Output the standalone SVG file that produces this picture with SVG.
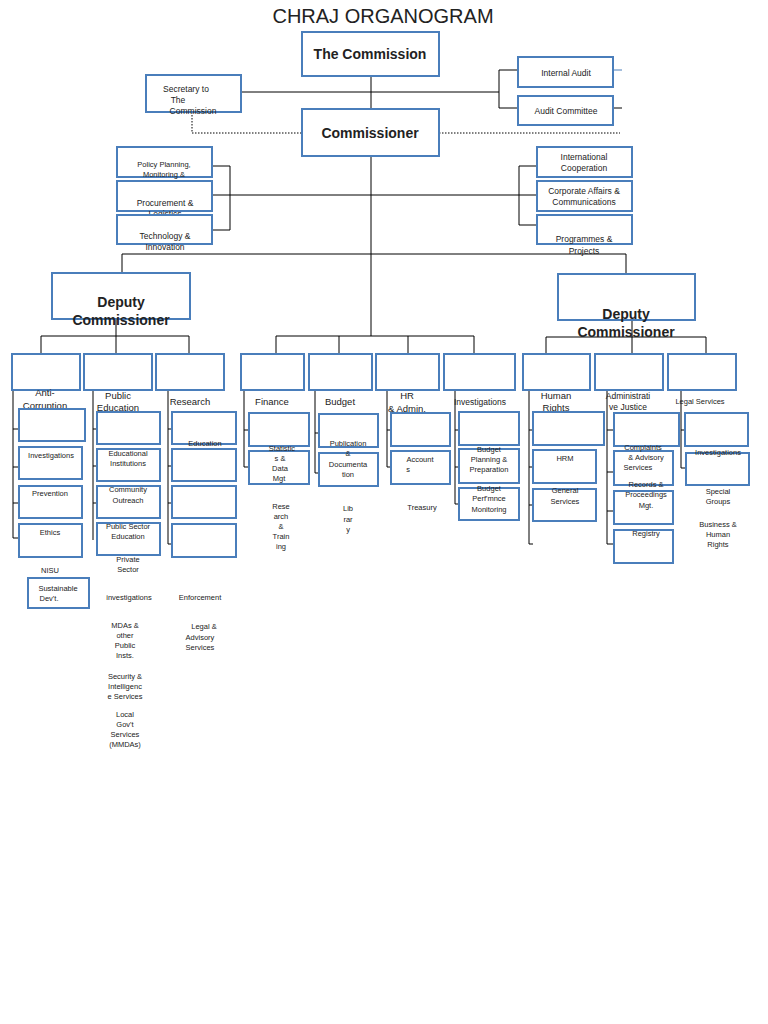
<svg xmlns="http://www.w3.org/2000/svg" width="768" height="1024" viewBox="0 0 768 1024">
<style>
.b{fill:#fff;stroke:#4a7ebb;stroke-width:2}
.l{stroke:#000;stroke-width:1;fill:none}
.d{stroke:#000;stroke-width:1;stroke-dasharray:1.5,1.5;fill:none}
text{font-family:"Liberation Sans",Arial,sans-serif;fill:#222;text-anchor:middle}
.s{font-size:7.5px}
.m{font-size:8.5px}
.t{font-size:9.5px}
.h{font-size:14px;font-weight:bold}
</style>
<rect width="768" height="1024" fill="#fff"/>
<text x="383" y="23" style="font-size:20px">CHRAJ ORGANOGRAM</text>
<g id="connectors">
<path class="l" d="M371 76V109M371 156V336M241 92H499M499 70V108M499 70H518M499 108H518"/>
<path d="M613 70H622" stroke="#4a7ebb"/>
<path class="l" d="M613 108H622"/>
<path class="d" d="M192 112V133H302M439 133H620"/>
<path class="l" d="M212 166H230V230H212M212 195H537M537 166H519V225H537"/>
<path class="l" d="M122 254H626M122 254V273M626 254V274"/>
<path class="l" d="M41 336H189M41 336V354M116 319V354M189 336V354"/>
<path class="l" d="M276 336H474M276 336V354M339 336V354M408 336V354M474 336V354"/>
<path class="l" d="M546 337H706M546 337V354M632 320V354M706 337V354"/>
<path class="l" d="M13 390V538M13 429H19M13 467H19M13 503H19M13 538H19"/>
<path class="l" d="M93 390V540M93 429H97M93 466H97M93 503H97"/>
<path class="l" d="M168 390V544H172M168 429H172M168 466H172M168 503H172"/>
<path class="l" d="M244 390V467H249M244 430H249"/>
<path class="l" d="M315 390V473H319M315 433H319"/>
<path class="l" d="M387 390V467H391M387 430H391"/>
<path class="l" d="M455 390V504H459M455 430H459M455 467H459"/>
<path class="l" d="M529 390V544H533M529 430H533M529 467H533M529 505H533"/>
<path class="l" d="M607 390V544H614M607 430H614M607 472H614M607 511H614"/>
<path class="l" d="M681 390V468H686M681 430H685"/>
</g>
<g id="commission"><rect class="b" x="302" y="32" width="137" height="44"/><text x="370" y="59" class="h">The Commission</text></g>
<g id="commissioner"><rect class="b" x="302" y="109" width="137" height="47"/><text x="370" y="138" class="h">Commissioner</text></g>
<g id="secretary"><rect class="b" x="146" y="75" width="95" height="37"/><text class="m" x="186" y="92">Secretary to</text><text class="m" x="178" y="103">The</text><text class="m" x="193" y="114">Commission</text></g>
<g id="internal-audit"><rect class="b" x="518" y="57" width="95" height="30"/><text class="m" x="566" y="76">Internal Audit</text></g>
<g id="audit-committee"><rect class="b" x="518" y="96" width="95" height="29"/><text class="m" x="566" y="114">Audit Committee</text></g>
<g id="policy"><rect class="b" x="117" y="147" width="95" height="30"/><text class="s" x="164" y="167">Policy Planning,</text><text class="s" x="164" y="177">Monitoring &amp;</text><text class="s" x="164" y="187">Evaluation</text></g>
<g id="procurement"><rect class="b" x="117" y="181" width="95" height="30"/><text class="m" x="165" y="206">Procurement &amp;</text><text class="m" x="165" y="217">Logistics</text></g>
<g id="technology"><rect class="b" x="117" y="215" width="95" height="29"/><text class="m" x="165" y="239">Technology &amp;</text><text class="m" x="165" y="250">Innovation</text></g>
<g id="intl"><rect class="b" x="537" y="147" width="95" height="30"/><text class="m" x="584" y="160">International</text><text class="m" x="584" y="171">Cooperation</text></g>
<g id="corporate"><rect class="b" x="537" y="181" width="95" height="30"/><text class="m" x="584" y="194">Corporate Affairs &amp;</text><text class="m" x="584" y="205">Communications</text></g>
<g id="programmes"><rect class="b" x="537" y="215" width="95" height="29"/><text class="m" x="584" y="242">Programmes &amp;</text><text class="m" x="584" y="254">Projects</text></g>
<g id="deputy-left"><rect class="b" x="52" y="273" width="138" height="46"/><text x="121" y="307" style="font-size:14px;font-weight:bold">Deputy</text><text x="121" y="325" style="font-size:14px;font-weight:bold">Commissioner</text></g>
<g id="deputy-right"><rect class="b" x="558" y="274" width="137" height="46"/><text x="626" y="319" style="font-size:14px;font-weight:bold">Deputy</text><text x="626" y="337" style="font-size:14px;font-weight:bold">Commissioner</text></g>
<g id="anti-corruption"><rect class="b" x="12" y="354" width="68" height="36"/><text class="t" x="45" y="396">Anti-</text><text class="t" x="45" y="409">Corruption</text>
<rect class="b" x="19" y="409" width="66" height="32"/><rect class="b" x="19" y="447" width="63" height="32"/><rect class="b" x="19" y="486" width="63" height="32"/><rect class="b" x="19" y="524" width="63" height="33"/>
<text class="s" x="51" y="458">Investigations</text><text class="s" x="50" y="496">Prevention</text><text class="s" x="50" y="535">Ethics</text><text class="s" x="50" y="573">NISU</text>
<rect class="b" x="28" y="578" width="61" height="30"/><text class="s" x="58" y="591" style="text-anchor:middle">Sustainable</text><text class="s" x="49" y="601">Dev't.</text></g>
<g id="public-education"><rect class="b" x="84" y="354" width="68" height="36"/><text class="t" x="118" y="399">Public</text><text class="t" x="118" y="411">Education</text>
<rect class="b" x="97" y="412" width="63" height="32"/><rect class="b" x="97" y="449" width="63" height="32"/><rect class="b" x="97" y="486" width="63" height="32"/><rect class="b" x="97" y="523" width="63" height="32"/>
<text class="s" x="128" y="456">Educational</text><text class="s" x="128" y="466">Institutions</text><text class="s" x="128" y="492">Community</text><text class="s" x="128" y="503">Outreach</text><text class="s" x="128" y="529">Public Sector</text><text class="s" x="128" y="539">Education</text><text class="s" x="128" y="562">Private</text><text class="s" x="128" y="572">Sector</text><text class="s" x="129" y="600">investigations</text>
<text class="s" x="125" y="628">MDAs &amp;</text><text class="s" x="125" y="638">other</text><text class="s" x="125" y="648">Public</text><text class="s" x="125" y="658">Insts.</text><text class="s" x="125" y="679">Security &amp;</text><text class="s" x="125" y="689">Intelligenc</text><text class="s" x="125" y="699">e  Services</text><text class="s" x="125" y="717">Local</text><text class="s" x="125" y="727">Gov't</text><text class="s" x="125" y="737">Services</text><text class="s" x="125" y="747">(MMDAs)</text></g>
<g id="research"><rect class="b" x="156" y="354" width="68" height="36"/><text class="t" x="190" y="405">Research</text>
<rect class="b" x="172" y="412" width="64" height="32"/><rect class="b" x="172" y="449" width="64" height="32"/><rect class="b" x="172" y="486" width="64" height="32"/><rect class="b" x="172" y="524" width="64" height="33"/>
<text class="s" x="205" y="446">Education</text><text class="s" x="200" y="600">Enforcement</text><text class="s" x="204" y="629">Legal     &amp;</text><text class="s" x="200" y="640">Advisory</text><text class="s" x="200" y="650">Services</text></g>
<g id="finance"><rect class="b" x="241" y="354" width="63" height="36"/><text class="t" x="272" y="405">Finance</text>
<rect class="b" x="249" y="413" width="60" height="33"/><rect class="b" x="249" y="451" width="60" height="33"/>
<text class="s" x="282" y="451">Statistic</text><text class="s" x="280" y="461">s &amp;</text><text class="s" x="280" y="471">Data</text><text class="s" x="279" y="481">Mgt</text>
<text class="s" x="281" y="509">Rese</text><text class="s" x="281" y="519">arch</text><text class="s" x="281" y="529">&amp;</text><text class="s" x="281" y="539">Train</text><text class="s" x="281" y="549">ing</text></g>
<g id="budget"><rect class="b" x="309" y="354" width="63" height="36"/><text class="t" x="340" y="405">Budget</text>
<rect class="b" x="319" y="414" width="59" height="33"/><rect class="b" x="319" y="453" width="59" height="33"/>
<text class="s" x="348" y="446">Publication</text><text class="s" x="348" y="456">&amp;</text><text class="s" x="348" y="467">Documenta</text><text class="s" x="348" y="477">tion</text>
<text class="s" x="348" y="511">Lib</text><text class="s" x="348" y="522">rar</text><text class="s" x="348" y="532">y</text></g>
<g id="hr-admin"><rect class="b" x="376" y="354" width="63" height="36"/><text class="t" x="407" y="399">HR</text><text class="t" x="407" y="412">&amp; Admin.</text>
<rect class="b" x="391" y="413" width="59" height="33"/><rect class="b" x="391" y="451" width="59" height="33"/>
<text class="s" x="420" y="462">Account</text><text class="s" x="408" y="472">s</text><text class="s" x="422" y="510">Treasury</text></g>
<g id="investigations"><rect class="b" x="444" y="354" width="71" height="36"/><text class="m" x="480" y="405">Investigations</text>
<rect class="b" x="459" y="412" width="60" height="33"/><rect class="b" x="459" y="449" width="60" height="34"/><rect class="b" x="459" y="488" width="60" height="32"/>
<text class="s" x="489" y="452">Budget</text><text class="s" x="489" y="462">Planning &amp;</text><text class="s" x="489" y="472">Preparation</text><text class="s" x="489" y="491">Budget</text><text class="s" x="489" y="501">Perf'mnce</text><text class="s" x="489" y="512">Monitoring</text></g>
<g id="human-rights"><rect class="b" x="523" y="354" width="67" height="36"/><text class="t" x="556" y="399">Human</text><text class="t" x="556" y="411">Rights</text>
<rect class="b" x="533" y="412" width="71" height="33"/><rect class="b" x="533" y="450" width="63" height="33"/><rect class="b" x="533" y="489" width="63" height="32"/>
<text class="s" x="565" y="461">HRM</text><text class="s" x="565" y="493">General</text><text class="s" x="565" y="504">Services</text></g>
<g id="admin-justice"><rect class="b" x="595" y="354" width="68" height="36"/><text class="m" x="628" y="399">Administrati</text><text class="m" x="628" y="410">ve Justice</text>
<rect class="b" x="614" y="413" width="65" height="33"/><rect class="b" x="614" y="451" width="59" height="34"/><rect class="b" x="614" y="491" width="59" height="33"/><rect class="b" x="614" y="530" width="59" height="33"/>
<text class="s" x="643" y="450">Complaints</text><text class="s" x="646" y="460">&amp;    Advisory</text><text class="s" x="638" y="470">Services</text><text class="s" x="646" y="487">Records &amp;</text><text class="s" x="646" y="497">Proceedings</text><text class="s" x="646" y="508">Mgt.</text><text class="s" x="646" y="536">Registry</text></g>
<g id="legal-services"><rect class="b" x="668" y="354" width="68" height="36"/><text class="s" x="700" y="404">Legal Services</text>
<rect class="b" x="685" y="413" width="63" height="33"/><rect class="b" x="686" y="453" width="63" height="32"/>
<text class="s" x="718" y="455">Investigations</text><text class="s" x="718" y="494">Special</text><text class="s" x="718" y="504">Groups</text><text class="s" x="718" y="527">Business &amp;</text><text class="s" x="718" y="537">Human</text><text class="s" x="718" y="547">Rights</text></g>
</svg>
